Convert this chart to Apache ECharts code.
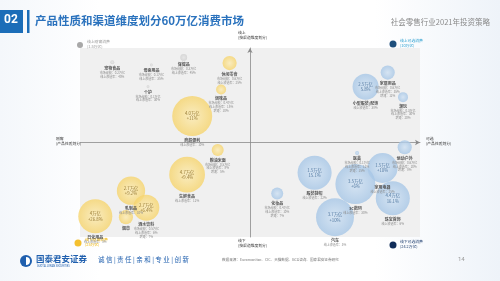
<!DOCTYPE html>
<html><head><meta charset="utf-8">
<script src="https://cdn.jsdelivr.net/npm/echarts@6/dist/echarts.min.js"></script>
<style>html,body{margin:0;padding:0;background:#fff}#c{width:500px;height:281px}</style>
</head><body><div id="c"></div>
<script>
// ---- data ----
const names = ['宠物食品','母婴用品','保健品','个护','休闲零食','调味品','商超便利','粮油米面','生鲜食品','乳制品','日化用品','酒水饮料','烟草','小型服装/配饰','家居用品','潮玩','运动户外','医美','家用电器','3C数码','服装鞋帽','珠宝首饰','化妆品','汽车'];
const xVals = [-8.1,-5.8,-3.9,-6.0,-1.2,-1.7,-3.4,-1.9,-3.7,-7.0,-9.1,-6.1,-7.3, 6.8,8.1,9.0, 9.1,6.3,7.8,6.2,3.8,8.4,1.6,5.0];
const yVals = [8.5,8.2,9.0,5.9,8.4,5.6,2.8,-0.8,-3.4,-5.1,-7.8,-6.9,-7.9, 5.9,7.4,4.8, -0.5,-1.1,-2.7,-4.4,-3.2,-5.9,-5.4,-7.9];
const bubbleSize = [0.04,0.02,0.12,0.02,0.5,0.25,4.0,0.36,3.2,2.0,2.9,1.7,0.5, 1.7,0.5,0.25, 0.5,0.04,2.25,4.0,2.9,2.9,0.36,3.6];
const groups = ['g','g','g','g','y','y','y','y','y','y','y','y','y','b','b','b','b','b','b','b','b','b','b','b'];
const innerText = ['','','','','','','4.0万亿\n+11%','','4.7万亿\n+9.4%','2.7万亿\n+9.2%','4万亿\n+26.8%','2.7万亿\n+6.4%','','2.5万亿\n5.8%','','','','','1.5万亿\n+10%','3.5万亿\n+6%','1.5万亿\n15.1%','4.4万亿\n16.1%','','3.7万亿\n+10%'];
const details = [
 ['市场规模：0.2万亿','线上渗透率：40%'],
 ['市场规模：0.1万亿','线上渗透率：35%'],
 ['市场规模：0.3万亿','线上渗透率：45%'],
 ['市场规模：0.1万亿','线上渗透率：30%'],
 ['市场规模：0.6万亿','线上渗透率：25%'],
 ['市场规模：0.4万亿','线上渗透率：15%','增速：10%'],
 ['线上渗透率：10%'],
 ['市场规模：0.5万亿','线上渗透率：8%','增速：5%'],
 ['线上渗透率：12%'],
 ['线上渗透率：10%'],
 ['线上渗透率：5%'],
 ['市场规模：0.5万亿','线上渗透率：6%','增速：7%'],
 [],
 ['线上渗透率：38%'],
 ['市场规模：0.6万亿','线上渗透率：35%','增速：12%'],
 ['市场规模：0.3万亿','线上渗透率：30%','增速：20%'],
 ['市场规模：0.6万亿','线上渗透率：20%','增速：8%'],
 ['市场规模：0.1万亿','线上渗透率：12%','增速：15%'],
 ['线上渗透率：25%'],
 ['线上渗透率：30%'],
 ['线上渗透率：22%'],
 ['线上渗透率：6%'],
 ['市场规模：0.4万亿','线上渗透率：10%','增速：7%'],
 ['线上渗透率：3%']
];
const quadrantNames = ['线上刚需消费\n(1.5万亿)','线上可选消费\n(10万亿)','线下刚需消费\n(25万亿)','线下可选消费\n(24.2万亿)'];
const axisNames = ['线上\n(按渠道维度划分)','线下\n(按渠道维度划分)','刚需\n(产品性质划分)','可选\n(产品性质划分)'];

const palette = {
  g:{c0:'#e4e4e4',c1:'#d0d0d0',t:'#666'},
  y:{c0:'#fcebb3',c1:'#f6d46c',t:'#7a5a10'},
  b:{c0:'#cfe1f3',c1:'#a6c6e6',t:'#2f5d8c'}
};
function fill(k){return {type:'radial',x:0.5,y:0.5,r:0.5,colorStops:[{offset:0,color:palette[k].c0},{offset:1,color:palette[k].c1}]};}

const bubbles = names.map((n,i)=>({
  value:[xVals[i],yVals[i],bubbleSize[i]],
  itemStyle:{color:fill(groups[i])},
  label:{show:!!innerText[i],formatter:innerText[i],color:palette[groups[i]].t}
}));
const tags = names.map((n,i)=>({
  value:[xVals[i],yVals[i],bubbleSize[i]],
  label:{formatter:'{n|'+n+'}'+(details[i].length?'\n'+details[i].map(s=>'{d|'+s+'}').join('\n'):'')}
}));
const sz = v=>20*Math.sqrt(v[2]);

const chart = echarts.init(document.getElementById('c'),null,{renderer:'canvas'});
chart.setOption({
  backgroundColor:{type:'linear',x:0,y:0,x2:1,y2:0,colorStops:[{offset:0,color:'#f4f7fb'},{offset:0.2,color:'#ffffff'},{offset:0.75,color:'#ffffff'},{offset:1,color:'#eef3f9'}]},
  animation:false,
  grid:{left:80,right:80,top:48,bottom:44,show:true,backgroundColor:'#f0f0f0',borderWidth:0},
  xAxis:{type:'value',min:-10,max:10,splitLine:{show:false},axisTick:{show:false},axisLabel:{show:false},
    axisLine:{onZero:true,lineStyle:{color:'#8a8a8a',width:0.8},symbol:['none','arrow'],symbolSize:[4,5]}},
  yAxis:{type:'value',min:-10,max:10,splitLine:{show:false},axisTick:{show:false},axisLabel:{show:false},
    axisLine:{onZero:true,lineStyle:{color:'#8a8a8a',width:0.8},symbol:['none','arrow'],symbolSize:[4,5]}},
  series:[
    {type:'scatter',data:bubbles,symbolSize:sz,
      label:{position:'inside',fontSize:4.3,lineHeight:5.5,fontFamily:'Noto Sans CJK SC'},z:2},
    {type:'scatter',data:tags,symbolSize:sz,itemStyle:{color:'rgba(0,0,0,0)'},z:3,silent:true,
      labelLayout:{hideOverlap:false},
      label:{show:true,position:'bottom',distance:1.5,fontFamily:'Noto Sans CJK SC',opacity:1,
        rich:{n:{fontSize:4,fontWeight:'bold',color:'#555',lineHeight:5},d:{fontSize:3,color:'#8a8a8a',lineHeight:3.8}}}}
  ],
  graphic:[
    {type:'rect',left:0,top:10,shape:{width:23,height:23},style:{fill:'#1b6db8'}},
    {type:'text',left:4,top:14,style:{text:'02',fill:'#fff',font:'bold 12px Roboto'}},
    {type:'rect',left:27,top:10,shape:{width:2.5,height:23},style:{fill:'#1b6db8'}},
    {type:'text',left:35,top:15,style:{text:'产品性质和渠道维度划分60万亿消费市场',fill:'#2a72bd',font:'bold 11.5px "Noto Sans CJK SC"'}},
    {type:'text',right:10,top:18,style:{text:'社会零售行业2021年投资策略',fill:'#8a8a8a',font:'7.5px "Noto Sans CJK SC"'}},
    // quadrant legends
    {type:'circle',shape:{cx:80,cy:45,r:3},style:{fill:'#a8a8a8'}},
    {type:'text',left:87,top:39,style:{text:quadrantNames[0],fill:'#999',font:'3.8px "Noto Sans CJK SC"',lineHeight:5}},
    {type:'circle',shape:{cx:393,cy:44,r:3.5},style:{fill:'#1e4f7c'}},
    {type:'text',left:400,top:38,style:{text:quadrantNames[1],fill:'#2a9fd0',font:'3.8px "Noto Sans CJK SC"',lineHeight:5}},
    {type:'circle',shape:{cx:78,cy:243,r:3.5},style:{fill:'#f4c02f'}},
    {type:'text',left:85,top:237,style:{text:quadrantNames[2],fill:'#f0b400',font:'3.8px "Noto Sans CJK SC"',lineHeight:5}},
    {type:'circle',shape:{cx:393,cy:245,r:3.5},style:{fill:'#0f2c58'}},
    {type:'text',left:400,top:239,style:{text:quadrantNames[3],fill:'#1c3c6e',font:'3.8px "Noto Sans CJK SC"',lineHeight:5}},
    // axis direction labels
    {type:'text',left:238,top:30,style:{text:axisNames[0],fill:'#333',font:'3.8px "Noto Sans CJK SC"',lineHeight:5,align:'center'}},
    {type:'text',left:238,top:238,style:{text:axisNames[1],fill:'#333',font:'3.8px "Noto Sans CJK SC"',lineHeight:5,align:'center'}},
    {type:'text',left:56,top:136,style:{text:axisNames[2],fill:'#333',font:'3.8px "Noto Sans CJK SC"',lineHeight:5,align:'center'}},
    {type:'text',left:426,top:136,style:{text:axisNames[3],fill:'#333',font:'3.8px "Noto Sans CJK SC"',lineHeight:5,align:'center'}},
    // footer
    {type:'circle',shape:{cx:26,cy:261,r:6},style:{fill:'#1f5fae'}},
    {type:'sector',shape:{cx:26,cy:261,r:4,startAngle:-Math.PI/2,endAngle:Math.PI/2},style:{fill:'#fff'}},
    {type:'text',left:36,top:255,style:{text:'国泰君安证券',fill:'#1f5fae',font:'bold 8.5px "Noto Sans CJK SC"'}},
    {type:'text',left:37,top:265,style:{text:'GUOTAI JUNAN SECURITIES',fill:'#1f5fae',font:'2.6px Roboto'}},
    {type:'text',left:98,top:256,style:{text:'诚 信 | 责 任 | 亲 和 | 专 业 | 创 新',fill:'#1f5fae',font:'6.5px "Noto Sans CJK SC"'}},
    {type:'text',left:222,top:258,style:{text:'数据来源：Euromonitor、CIC、天猫数据、BCG咨询、国泰君安证券研究',fill:'#777',font:'3.6px "Noto Sans CJK SC"'}},
    {type:'text',left:458,top:256,style:{text:'14',fill:'#999',font:'6px Roboto'}}
  ]
});
</script></body></html>
